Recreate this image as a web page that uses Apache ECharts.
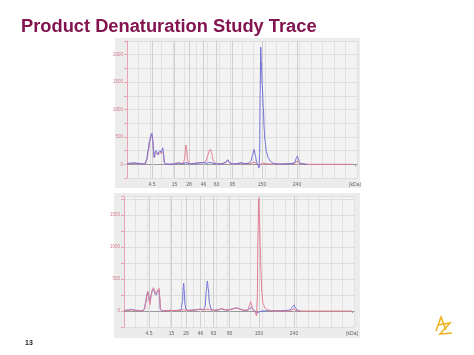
<!DOCTYPE html>
<html>
<head>
<meta charset="utf-8">
<script src="https://cdn.jsdelivr.net/npm/echarts@6/dist/echarts.min.js"></script>
<style>
html,body{margin:0;padding:0;background:#fff;}
#chart{width:474px;height:355px;}
</style>
</head>
<body>
<div id="chart"></div>
<script>
// ---- Data ----
const titleText = 'Product Denaturation Study Trace';
const pageNumber = '13';

// ladder (kDa) tick labels and their migration positions
const ladderLabels = ['4.5', '15', '28', '46', '63', '95', '150', '240', '[kDa]'];
const ladderPos = [25, 47.5, 62, 76.5, 89.5, 105.5, 135, 170, 228];

// y-axis tick values
const topYTicks = [0, 500, 1000, 1500, 2000];
const bottomYTicks = [0, 500, 1000, 1500];

// Top panel – blue trace
const topBlueX = [0, 4, 8, 12, 16, 18, 19.5, 21, 22.5, 24, 24.8, 25.6, 26.4, 27.2, 28, 29, 30, 31, 32, 33, 34, 35, 35.8, 36.5, 37.3, 38.5, 42, 46, 50, 52, 54, 57, 59, 61, 64, 68, 72, 76, 80, 83, 86, 90, 95, 99, 100.7, 102.5, 106, 110, 114, 117, 121, 124, 125.7, 127, 128.3, 129.6, 131, 132, 132.6, 133.2, 133.7, 134.3, 135.2, 136.3, 137.2, 138, 139.5, 141.3, 143.5, 146.3, 150, 155, 160, 165, 168, 169.5, 170.3, 171.3, 172.5, 174, 177, 180];
const topBlueY = [15, 20, 25, 15, 5, 10, 80, 250, 420, 540, 565, 470, 280, 130, 210, 250, 215, 180, 230, 250, 215, 260, 300, 200, 40, 5, 0, 0, 15, 25, 10, 10, 35, 15, 5, 15, 25, 30, 20, 35, 20, 5, 10, 40, 85, 30, 5, 10, 30, 15, 15, 60, 180, 270, 170, 40, -20, -70, 200, 1300, 2140, 1900, 1450, 1040, 650, 425, 220, 115, 50, 20, 5, 5, 10, 15, 40, 120, 150, 100, 40, 15, 5, 0];

// Top panel – red trace
const topRedX = [0, 4, 8, 12, 16, 18.5, 20, 21.5, 23, 24.3, 25, 25.8, 26.6, 27.4, 28.2, 29.2, 30.2, 31.2, 32.2, 33.2, 34.2, 35.2, 36, 36.8, 37.6, 39, 44, 48, 51, 53, 56, 57.5, 58.4, 59, 59.6, 60.5, 61.5, 64, 68, 72, 76, 79, 81, 82.5, 83.5, 84.8, 86, 87.5, 90, 95, 99, 100.9, 102.5, 106, 110, 114, 118, 122, 125, 127, 129, 131, 132.5, 134, 136, 140, 145, 150, 160, 168, 170.3, 172, 176, 180, 190, 200, 210, 220, 226];
const topRedY = [10, 15, 20, 10, 5, 10, 90, 250, 430, 530, 540, 420, 240, 120, 190, 210, 185, 170, 200, 210, 190, 215, 230, 120, 20, 5, 5, 15, 30, 20, 15, 80, 260, 350, 280, 90, 25, 10, 20, 25, 30, 60, 170, 260, 275, 200, 80, 25, 10, 10, 30, 75, 25, 5, 10, 25, 10, 10, 25, 40, 15, -10, -30, 10, 20, 10, 5, 5, 5, 20, 60, 20, 5, 0, 0, 0, 0, 0, 0];

// Bottom panel – blue trace
const botBlueX = [0, 4, 7.7, 10, 14, 18, 20, 21.5, 22.8, 23.6, 24.5, 25.5, 26.2, 27.2, 28.3, 29.3, 30.2, 31.2, 32.2, 33.2, 34.2, 35, 35.6, 36.3, 37.5, 42, 46, 50, 54, 57, 58.5, 59.3, 59.7, 60.2, 61, 62, 64, 68, 72, 75, 77, 79, 81, 82.3, 83.3, 84.3, 85.5, 87, 90, 94, 97.7, 100, 104, 108, 112.7, 116, 120, 124, 126, 127.5, 129, 131, 132.7, 134, 136, 138, 145, 150, 160, 166, 169, 170, 171, 173, 176];
const botBlueY = [10, 15, 25, 15, 10, 5, 20, 120, 250, 300, 230, 150, 170, 260, 320, 340, 310, 260, 250, 290, 320, 310, 200, 30, 5, 5, 10, 5, 10, 20, 150, 380, 435, 330, 100, 25, 10, 15, 20, 25, 30, 20, 60, 300, 470, 350, 120, 30, 10, 15, 35, 20, 15, 30, 50, 30, 10, 15, 40, 60, 20, 0, -40, -20, -10, 0, 5, 5, 5, 15, 70, 95, 60, 15, 0];

// Bottom panel – red trace
const botRedX = [0, 4, 7.7, 10, 14, 18, 20.5, 22, 23, 24, 25, 26, 27, 28.3, 29.3, 30.5, 31.5, 32.5, 33.5, 34.5, 35.2, 35.8, 36.4, 38, 42, 46, 50, 54, 57, 59.5, 62, 66, 70, 73, 76, 79, 82, 84, 87, 90, 94, 97.7, 101, 105, 109, 112.7, 116, 120, 124, 125.8, 126.7, 127.6, 129, 131, 132.5, 133.3, 134, 134.7, 135.4, 136.2, 137, 137.8, 139, 141, 144, 148, 155, 165, 170, 172, 178, 190, 200, 210, 220, 228];
const botRedY = [5, 10, 20, 10, 5, 5, 30, 150, 260, 305, 200, 100, 230, 330, 365, 330, 280, 275, 320, 350, 355, 220, 30, 5, 5, 10, 5, 10, 10, 25, 10, 10, 15, 20, 30, 15, 25, 30, 15, 10, 20, 40, 20, 15, 35, 50, 30, 10, 20, 100, 145, 90, 20, -10, -75, 200, 1200, 1770, 1500, 1030, 620, 300, 120, 45, 15, 5, 0, 0, 30, 5, 0, 0, 0, 0, 0, 0];

// ---- Styles ----
const BLUE = '#6f6fd8';
const RED = '#e27a90';
const PINK_AXIS = '#eaa3b3';
const TITLE_COLOR = '#82144f';

const pairs = (xs, ys) => xs.map((x, i) => [x, ys[i]]);
const ladderLines = ladderPos.slice(0, ladderPos.length - 1).map(p => ({ xAxis: p }));

function mainXAxis(gridIndex) {
  return {
    type: 'value', gridIndex: gridIndex, min: 0, max: 230,
    axisLine: { show: true, lineStyle: { color: '#9a9a9a', width: 1 } },
    axisTick: { show: true, length: 2, customValues: ladderPos, lineStyle: { color: '#9a9a9a' } },
    axisLabel: {
      show: true, customValues: ladderPos, fontSize: 5, color: '#666', margin: 4,
      fontFamily: 'Liberation Sans',
      formatter: v => { const i = ladderPos.indexOf(v); return i >= 0 ? ladderLabels[i] : ''; }
    },
    splitLine: { show: false }
  };
}
function minorXAxis(gridIndex) {
  return {
    type: 'value', gridIndex: gridIndex, min: 0, max: 230, interval: 11.5,
    axisLine: { show: false }, axisTick: { show: false }, axisLabel: { show: false },
    splitLine: { show: true, lineStyle: { color: '#e1e1e1', width: 1 } }
  };
}
function yAxis(gridIndex, max, ticks) {
  return {
    type: 'value', gridIndex: gridIndex, min: -250, max: max, interval: 250,
    axisLine: { show: true, onZero: false, lineStyle: { color: PINK_AXIS, width: 1 } },
    axisTick: { show: true, length: 3, lineStyle: { color: PINK_AXIS } },
    axisLabel: {
      fontSize: 4.5, color: '#d07a8c', margin: 4, fontFamily: 'Liberation Sans',
      formatter: v => ticks.indexOf(v) >= 0 ? String(v) : ''
    },
    splitLine: { show: true, lineStyle: { color: '#dedede', width: 1 } }
  };
}
function trace(name, xAxisIndex, yAxisIndex, data, color, withLadder) {
  const s = {
    name: name, type: 'line', xAxisIndex: xAxisIndex, yAxisIndex: yAxisIndex,
    data: data, showSymbol: false, symbol: 'none', smooth: 0.3, smoothMonotone: 'x',
    lineStyle: { color: color, width: 1 }, itemStyle: { color: color }, animation: false, z: 3
  };
  if (withLadder) {
    s.markLine = {
      silent: true, symbol: 'none', label: { show: false },
      lineStyle: { color: '#cfcfcf', type: 'solid', width: 1 },
      data: ladderLines, z: 1, animation: false
    };
  }
  return s;
}

const chart = echarts.init(document.getElementById('chart'), null, { renderer: 'canvas' });
chart.setOption({
  animation: false,
  backgroundColor: '#ffffff',
  grid: [
    { left: 127, right: 117, top: 41, bottom: 177, show: true, backgroundColor: '#f3f3f3', borderWidth: 0 },
    { left: 124, right: 120, top: 196, bottom: 28, show: true, backgroundColor: '#f3f3f3', borderWidth: 0 }
  ],
  xAxis: [mainXAxis(0), minorXAxis(0), mainXAxis(1), minorXAxis(1)],
  yAxis: [yAxis(0, 2250, topYTicks), yAxis(1, 1800, bottomYTicks)],
  series: [
    trace('top-red', 0, 0, pairs(topRedX, topRedY), RED, true),
    trace('top-blue', 0, 0, pairs(topBlueX, topBlueY), BLUE, false),
    trace('bottom-blue', 2, 1, pairs(botBlueX, botBlueY), BLUE, true),
    trace('bottom-red', 2, 1, pairs(botRedX, botRedY), RED, false)
  ],
  graphic: [
    { type: 'rect', z: -100, shape: { x: 115, y: 38, width: 245, height: 150 }, style: { fill: '#ececec' } },
    { type: 'rect', z: -100, shape: { x: 114, y: 193, width: 246, height: 145 }, style: { fill: '#ececec' } },
    { type: 'text', left: 21, top: 18, style: { text: titleText, font: 'bold 18.3px "Liberation Sans", Arial, sans-serif', fill: TITLE_COLOR } },
    { type: 'text', left: 25, top: 340, style: { text: pageNumber, font: 'bold 7px "Liberation Sans", Arial, sans-serif', fill: '#222' } },
    { type: 'polyline', shape: { points: [[436, 331], [441, 317], [446, 330]] }, style: { stroke: '#f0b323', lineWidth: 1.6, fill: null } },
    { type: 'polyline', shape: { points: [[438, 325], [450, 323], [440, 334], [452, 333]] }, style: { stroke: '#f0b323', lineWidth: 1.6, fill: null } }
  ]
});
</script>
</body>
</html>
